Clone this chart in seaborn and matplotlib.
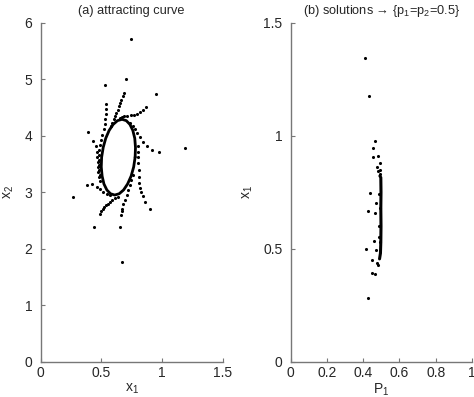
import numpy as np
import pandas as pd
import matplotlib
matplotlib.use("Agg")
import matplotlib.pyplot as plt
import seaborn as sns

# ---- panel (a): attracting curve ----
ring_x1 = [0.778, 0.781, 0.775, 0.759, 0.735, 0.705, 0.670, 0.633, 0.597, 0.564,
           0.536, 0.515, 0.502, 0.499, 0.506, 0.521, 0.545, 0.575, 0.610, 0.647,
           0.683, 0.716, 0.745, 0.766, 0.778]
ring_x2 = [3.620, 3.793, 3.955, 4.094, 4.200, 4.267, 4.290, 4.267, 4.200, 4.094,
           3.955, 3.793, 3.620, 3.447, 3.285, 3.146, 3.040, 2.973, 2.950, 2.973,
           3.040, 3.146, 3.285, 3.447, 3.620]

# starting points far from the curve
start_x1 = [0.744, 0.706, 0.533, 0.684, 0.953, 0.538, 0.390, 0.668]
start_x2 = [5.72, 5.00, 4.90, 4.76, 4.74, 4.57, 4.07, 1.76]

# trajectories (x1, x2)
traj_left_top = [(0.538, 4.47), (0.536, 4.38), (0.532, 4.29), (0.526, 4.20), (0.518, 4.11),
                 (0.508, 4.02), (0.498, 3.93), (0.490, 3.84), (0.484, 3.75), (0.480, 3.66),
                 (0.478, 3.57), (0.478, 3.48), (0.480, 3.39), (0.485, 3.30)]
traj_left_mid = [(0.434, 3.91), (0.453, 3.81), (0.460, 3.72), (0.465, 3.63), (0.468, 3.54),
                 (0.470, 3.45), (0.474, 3.36), (0.480, 3.27), (0.488, 3.19)]
traj_top = [(0.674, 4.70), (0.664, 4.64), (0.655, 4.58), (0.645, 4.52), (0.635, 4.46),
            (0.624, 4.40), (0.612, 4.34), (0.600, 4.29), (0.588, 4.23), (0.577, 4.17)]
traj_hook = [(0.866, 4.50), (0.840, 4.46), (0.815, 4.42), (0.790, 4.39), (0.765, 4.37),
             (0.740, 4.36), (0.715, 4.355), (0.690, 4.35), (0.670, 4.33), (0.655, 4.31)]
traj_right = [(1.19, 3.79), (0.978, 3.72), (0.915, 3.75), (0.874, 3.81), (0.841, 3.89),
              (0.818, 3.97), (0.797, 4.04), (0.777, 4.11), (0.758, 4.17), (0.736, 4.22)]
traj_low_left = [(0.27, 2.92), (0.384, 3.13), (0.425, 3.145), (0.460, 3.10), (0.490, 3.05),
                 (0.516, 3.01), (0.545, 2.97), (0.571, 2.95)]
traj_diag = [(0.44, 2.39), (0.486, 2.62), (0.500, 2.67), (0.511, 2.71), (0.525, 2.74),
             (0.538, 2.77), (0.555, 2.80), (0.571, 2.83), (0.590, 2.86), (0.613, 2.89),
             (0.635, 2.92)]
traj_bottom = [(0.65, 2.38), (0.66, 2.59), (0.666, 2.66), (0.673, 2.71), (0.681, 2.80),
               (0.695, 2.87), (0.709, 2.95), (0.722, 3.04), (0.736, 3.13), (0.748, 3.22),
               (0.758, 3.31)]
traj_low_right = [(0.90, 2.70), (0.86, 2.82), (0.84, 2.93), (0.826, 3.00), (0.818, 3.07),
                  (0.813, 3.16), (0.810, 3.27), (0.808, 3.39), (0.805, 3.51), (0.803, 3.62),
                  (0.803, 3.72), (0.805, 3.81)]

# ---- panel (b): solutions -> p1 = p2 = 0.5 ----
sol_p1 = [0.492, 0.497, 0.498, 0.497, 0.498, 0.497, 0.495, 0.490]
sol_x1 = [0.822, 0.815, 0.750, 0.680, 0.600, 0.530, 0.480, 0.455]

pts_p1 = [0.410, 0.432, 0.466, 0.456, 0.482, 0.453, 0.490, 0.475, 0.495, 0.480, 0.493,
          0.440, 0.471, 0.427, 0.464, 0.460, 0.416, 0.471, 0.447, 0.475, 0.479, 0.447,
          0.464, 0.427, 0.488, 0.486, 0.490, 0.487, 0.490]
pts_x1 = [1.342, 1.177, 0.977, 0.947, 0.912, 0.904, 0.878, 0.863, 0.850, 0.845, 0.830,
          0.745, 0.703, 0.668, 0.657, 0.534, 0.497, 0.494, 0.450, 0.435, 0.428, 0.391,
          0.389, 0.282, 0.600, 0.550, 0.530, 0.740, 0.680]

sns.set_style("ticks")
plt.rcParams['font.family'] = ['Liberation Sans', 'DejaVu Sans']
plt.rcParams['mathtext.fontset'] = 'custom'
plt.rcParams['mathtext.rm'] = 'Liberation Sans'
plt.rcParams['mathtext.it'] = 'Liberation Sans'
plt.rcParams['font.size'] = 10

fig = plt.figure(figsize=(4.74, 3.97), dpi=100)
ax1 = fig.add_axes([0.0859, 0.0889, 0.3840, 0.8539])
ax2 = fig.add_axes([0.6133, 0.0889, 0.3825, 0.8539])

# build table of trajectory dots for panel (a)
trajs = [traj_left_top, traj_left_mid, traj_top, traj_hook, traj_right,
         traj_low_left, traj_diag, traj_bottom, traj_low_right]
dots = pd.DataFrame([p for t in trajs for p in t], columns=['x1', 'x2'])
dots = pd.concat([dots, pd.DataFrame({'x1': start_x1, 'x2': start_x2})], ignore_index=True)
ring = pd.DataFrame({'x1': ring_x1, 'x2': ring_x2})

sns.lineplot(data=ring, x='x1', y='x2', sort=False, estimator=None, color='black',
             lw=2.0, ax=ax1)
sns.scatterplot(data=dots, x='x1', y='x2', color='black', s=5, linewidth=0, ax=ax1)

sol = pd.DataFrame({'p1': sol_p1, 'x1': sol_x1})
pts = pd.DataFrame({'p1': pts_p1, 'x1': pts_x1})
sns.lineplot(data=sol, x='p1', y='x1', sort=False, estimator=None, color='black',
             lw=2.2, ax=ax2)
sns.scatterplot(data=pts, x='p1', y='x1', color='black', s=5, linewidth=0, ax=ax2)

ax1.set_xlim(0, 1.5)
ax1.set_ylim(0, 6)
ax1.set_xticks([0, 0.5, 1, 1.5])
ax1.set_xticklabels(['0', '0.5', '1', '1.5'])
ax1.set_yticks([0, 1, 2, 3, 4, 5, 6])
ax1.set_xlabel(r'x$_1$', labelpad=1)
ax1.set_ylabel(r'x$_2$', labelpad=6)
ax1.set_title('(a) attracting curve', fontsize=9.2, pad=6)

ax2.set_xlim(0, 1)
ax2.set_ylim(0, 1.5)
ax2.set_xticks([0, 0.2, 0.4, 0.6, 0.8, 1])
ax2.set_xticklabels(['0', '0.2', '0.4', '0.6', '0.8', '1'])
ax2.set_yticks([0, 0.5, 1, 1.5])
ax2.set_yticklabels(['0', '0.5', '1', '1.5'])
ax2.set_xlabel(r'P$_1$', labelpad=1)
ax2.set_ylabel(r'x$_1$', labelpad=6)
ax2.set_title(r'(b) solutions → {p$_1$=p$_2$=0.5}', fontsize=9.2, pad=6)

for ax in (ax1, ax2):
    sns.despine(ax=ax)
    for s in ('left', 'bottom'):
        ax.spines[s].set_color('#777777')
        ax.spines[s].set_linewidth(1.0)
    ax.tick_params(direction='in', length=3, width=0.8, color='#777777',
                   labelsize=10)
    ax.tick_params(axis='x', pad=3)
    ax.tick_params(axis='y', pad=6)

fig.savefig('out.png', dpi=100)
